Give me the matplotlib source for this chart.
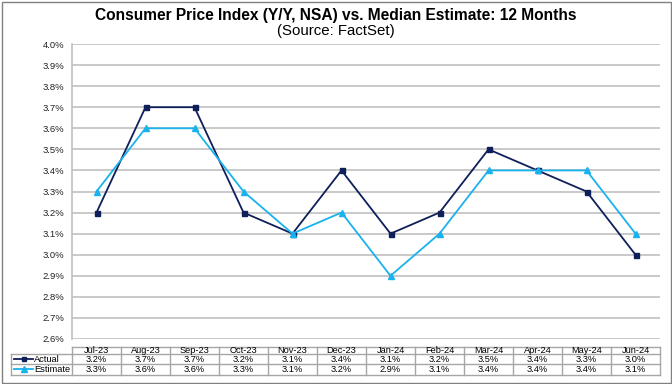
import matplotlib
matplotlib.use("Agg")
import matplotlib.pyplot as plt
from matplotlib.patches import Rectangle
from matplotlib.ticker import FuncFormatter, MultipleLocator

plt.rcParams['font.family'] = ['Liberation Sans', 'DejaVu Sans']

months = ["Jul-23", "Aug-23", "Sep-23", "Oct-23", "Nov-23", "Dec-23",
          "Jan-24", "Feb-24", "Mar-24", "Apr-24", "May-24", "Jun-24"]
actual = [3.2, 3.7, 3.7, 3.2, 3.1, 3.4, 3.1, 3.2, 3.5, 3.4, 3.3, 3.0]
estimate = [3.3, 3.6, 3.6, 3.3, 3.1, 3.2, 2.9, 3.1, 3.4, 3.4, 3.4, 3.1]
series_names = ["Actual", "Estimate"]

c_act = "#0F1F5A"
c_est = "#19B2EC"
grid_c = "#C0C0C0"

W, H = 672, 384
fig = plt.figure(figsize=(W / 100, H / 100), dpi=100)

def fx(px):
    return px / W

def fy(py):
    return 1 - py / H

# outer border
fig.patches.append(Rectangle((fx(1.5), fy(382.5)), fx(669), (381 / H),
                             transform=fig.transFigure, fill=False,
                             edgecolor="#808080", linewidth=1.0))

fig.text(0.5, fy(15.5), "Consumer Price Index (Y/Y, NSA) vs. Median Estimate: 12 Months",
         ha="center", va="center", fontsize=11.2, fontweight="bold")
fig.text(0.5, fy(30.5), "(Source: FactSet)", ha="center", va="center", fontsize=10.8)

# main plot
L, R, T, B = 72, 660, 44, 339
ax = fig.add_axes([fx(L), fy(B), fx(R - L), (B - T) / H])
x = list(range(len(months)))
ax.plot(x, actual, color=c_act, lw=1.3, marker="s", ms=3.6, zorder=3)
ax.plot(x, estimate, color=c_est, lw=1.3, marker="^", ms=4.2, zorder=3)
ax.set_xlim(-0.5, len(months) - 0.5)
ax.set_ylim(2.6, 4.0)
ax.yaxis.set_major_locator(MultipleLocator(0.1))
ax.yaxis.set_major_formatter(FuncFormatter(lambda v, p: f"{v:.1f}%"))
ax.grid(axis="y", color=grid_c, lw=1.2)
ax.set_axisbelow(True)
ax.set_xticks([])
for s in ["top", "right", "bottom"]:
    ax.spines[s].set_visible(False)
ax.spines["left"].set_color(grid_c)
ax.spines["left"].set_linewidth(1.2)
ax.tick_params(axis="y", length=0, labelsize=6.8, pad=5.8, labelcolor="#222222")
ax.set_facecolor("none")

# data table (vertical coordinates in pixels)
TL, TT, TB = 11, 346.5, 374.5
rows_px = [346.5, 354.3, 364.3, 374.5]
tax = fig.add_axes([fx(TL), fy(TB), fx(R - TL), (TB - TT) / H])
n = len(months)
cw = (R - L) / n
lab_w = (L - TL) / cw
x0 = -0.5 - lab_w
tax.set_xlim(x0, n - 0.5)
tax.set_ylim(TB, TT)
tax.axis("off")
tc = "#A6A6A6"
lwt = 1.0
tax.plot([-0.5, n - 0.5], [rows_px[0]] * 2, color=tc, lw=lwt, clip_on=False)
for yy in rows_px[1:]:
    tax.plot([x0, n - 0.5], [yy, yy], color=tc, lw=lwt, clip_on=False)
tax.plot([x0, x0], [rows_px[1], rows_px[3]], color=tc, lw=lwt, clip_on=False)
for i in range(n + 1):
    tax.plot([i - 0.5, i - 0.5], [rows_px[0], rows_px[3]], color=tc, lw=lwt, clip_on=False)

centers = [(rows_px[k] + rows_px[k + 1]) / 2 + 0.3 for k in range(3)]
fs = 6.7
for i, m in enumerate(months):
    tax.text(i, centers[0], m, ha="center", va="center", fontsize=fs)
    tax.text(i, centers[1], f"{actual[i]:.1f}%", ha="center", va="center", fontsize=fs)
    tax.text(i, centers[2], f"{estimate[i]:.1f}%", ha="center", va="center", fontsize=fs)

for r, (name, col, mk, ms) in enumerate(zip(series_names, [c_act, c_est], ["s", "^"], [3.4, 3.8])):
    yy = centers[1 + r] - 0.3
    lx0 = x0 + 3 / cw
    lx1 = x0 + 22 / cw
    tax.plot([lx0, lx1], [yy, yy], color=col, lw=1.3)
    tax.plot([(lx0 + lx1) / 2], [yy], color=col, marker=mk, ms=ms)
    tax.text(lx1 + 1 / cw, centers[1 + r], name, ha="left", va="center", fontsize=fs)

fig.savefig("out.png", dpi=100)
